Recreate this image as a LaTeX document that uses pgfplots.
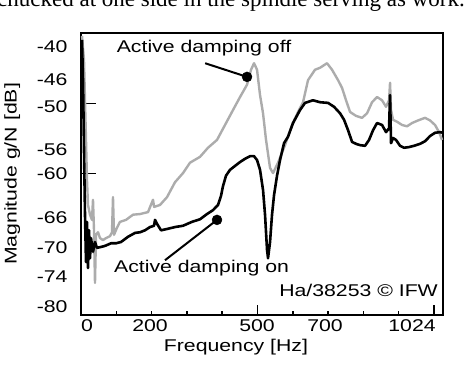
\documentclass[border=0pt]{standalone}
\usepackage{fontspec}
\setmainfont{Liberation Sans}[FakeStretch=1.25]
\newfontfamily\capfont{Liberation Serif}
\usepackage{pgfplots}
\pgfplotsset{compat=1.18}
\definecolor{offgray}{RGB}{172,172,172}
\begin{document}
\begin{tikzpicture}
\begin{axis}[
  name=ax, scale only axis, width=362pt, height=282pt,
  xmin=0, xmax=1050, ymin=-81.23, ymax=-37.85,
  axis line style={line width=2pt},
  tick style={line width=1.5pt, black},
  xtick pos=lower, ytick pos=left, tick align=inside,
  major tick length=0pt, minor tick length=4pt,
  xtick={17.4,200.2,510.6,707.8,960.2},
  xticklabels={0,200,500,700,1024},
  minor xtick={102.4,204.8,307.2,409.6,614.4,716.8,819.2,921.6},
  extra x ticks={512,1024}, extra x tick labels={},
  extra x tick style={major tick length=10pt},
  ytick={-40,-45.08,-49.23,-55.85,-59.54,-66.31,-70.92,-75.38,-80},
  yticklabels={-40,-46,-50,-56,-60,-66,-70,-74,-80},
  extra y ticks={-48.66,-59.43}, extra y tick labels={},
  extra y tick style={major tick length=15pt},
  tick label style={font=\fontsize{17}{20}\selectfont},
  yticklabel style={xshift=-10pt},
  xticklabel style={yshift=-1.5pt},
  label style={font=\fontsize{17}{20}\selectfont},
  xlabel={Frequency [Hz]},
  xlabel style={at={(axis description cs:0.428,-0.115)}, anchor=center},
  ylabel={Magnitude g/N [dB]},
  ylabel style={at={(axis description cs:-0.19,0.5)}, anchor=center, rotate=0},
  /pgf/number format/assume math mode=true,
]
% Active damping off (grey)
\addplot[offgray, line width=2.4pt, line join=round] coordinates {
(2.9,-38.3)(8.7,-42.0)(11.6,-48.2)(14.5,-54.3)(17.4,-60.5)(20.3,-64.3)
(26.1,-65.8)(31.9,-66.6)(34.8,-63.5)(37.7,-68.2)(40.6,-76.3)(43.5,-68.9)
(49.3,-68.5)(55.1,-69.4)(63.8,-69.7)(72.5,-69.4)(84.1,-69.1)(89.9,-68.5)
(92.8,-63.1)(95.7,-68.9)(104.4,-67.8)(113.1,-66.9)(130.5,-66.6)(150.9,-65.8)
(171.2,-65.7)(194.4,-65.4)(208.9,-63.5)(212.0,-64.6)(229.2,-64.3)(249.5,-63.1)
(272.7,-60.8)(295.9,-59.4)(316.2,-57.8)(345.2,-56.9)(368.4,-55.5)(394.5,-54.3)
(417.7,-52.0)(440.9,-49.7)(461.3,-47.7)(481.6,-45.8)(493.2,-43.5)(501.9,-42.5)
(510.6,-43.5)(519.3,-47.4)(528.0,-50.2)(536.7,-54.3)(548.3,-58.6)(557.0,-59.4)
(571.5,-57.8)(591.8,-55.1)(612.1,-52.0)(629.5,-50.0)(644.0,-48.5)(658.5,-45.1)
(678.8,-43.5)(693.3,-43.2)(713.6,-42.5)(728.1,-43.5)(745.6,-45.1)(757.2,-46.3)
(768.8,-48.2)(780.4,-50.0)(797.8,-50.6)(815.2,-50.9)(829.7,-50.2)(844.2,-48.5)
(858.7,-47.7)(873.2,-48.2)(884.8,-49.2)(893.5,-48.2)(896.4,-45.5)(899.3,-49.7)
(905.1,-51.2)(916.7,-51.5)(931.2,-52.0)(945.7,-52.2)(960.2,-51.7)(977.6,-51.3)
(997.9,-50.9)(1012.4,-51.3)(1026.9,-52.0)(1038.5,-53.1)(1047.3,-54.3)
};
% Active damping on (black)
\addplot[black, line width=2.6pt, line join=round] coordinates {
(2.9,-38.9)(5.8,-45.1)(8.7,-55.8)(11.6,-65.8)(14.5,-73.1)(17.4,-66.9)
(20.3,-74.0)(23.2,-68.2)(26.1,-72.5)(29.0,-69.4)(34.8,-71.5)(40.6,-70.0)
(46.4,-70.9)(55.1,-70.8)(69.6,-70.6)(87.0,-70.2)(101.5,-70.2)(116.0,-70.0)
(136.3,-69.2)(156.7,-68.6)(171.2,-68.5)(185.7,-68.2)(200.2,-67.7)(211.8,-67.5)
(214.7,-66.6)(220.5,-67.2)(232.1,-68.2)(249.5,-68.0)(272.7,-67.7)(295.9,-67.5)
(322.0,-66.9)(345.2,-66.5)(365.5,-65.7)(382.9,-65.1)(397.4,-64.3)(406.1,-62.9)
(411.9,-61.4)(420.6,-59.8)(432.2,-58.9)(446.7,-58.3)(461.3,-57.7)(475.8,-57.2)
(490.3,-56.8)(501.9,-56.8)(510.6,-57.4)(519.3,-58.9)(528.0,-62.0)(533.8,-65.8)
(539.6,-71.2)(542.5,-72.5)(548.3,-70.0)(554.1,-65.8)(559.9,-62.8)(568.6,-59.8)
(577.3,-57.4)(588.9,-54.8)(600.5,-53.8)(615.0,-51.7)(635.3,-49.7)(649.8,-48.6)
(673.0,-48.2)(693.3,-48.5)(716.5,-48.6)(733.9,-49.2)(751.4,-50.2)(763.0,-51.2)
(774.6,-52.8)(786.2,-54.6)(797.8,-54.9)(809.4,-55.1)(823.9,-55.2)(835.5,-54.3)
(847.1,-52.8)(858.7,-51.7)(873.2,-52.0)(884.8,-53.1)(893.5,-52.5)(896.4,-47.4)
(899.3,-54.8)(905.1,-54.0)(913.8,-54.3)(925.4,-55.2)(937.0,-55.5)(951.5,-55.4)
(966.0,-55.2)(983.4,-54.9)(997.9,-54.5)(1012.4,-53.7)(1026.9,-53.2)(1041.4,-53.1)
(1050.1,-53.2)
};
% annotation pointers
\addplot[black, line width=2pt] coordinates {(360.0,-42.5)(481.6,-44.6)};
\addplot[black, only marks, mark=*, mark size=5pt] coordinates {(481.6,-44.6)};
\addplot[black, line width=2pt] coordinates {(243.7,-72.8)(394.5,-66.6)};
\addplot[black, only marks, mark=*, mark size=5pt] coordinates {(394.5,-66.6)};
\node[font=\fontsize{17}{20}\selectfont, inner sep=0] at (axis cs:356.8,-40.15) {Active damping off};
\node[font=\fontsize{17}{20}\selectfont, inner sep=0] at (axis cs:349.6,-74.0) {Active damping on};
\node[font=\fontsize{17}{20}\selectfont, inner sep=0] at (axis cs:805,-77.5) {Ha/38253 \textcopyright{} IFW};
\end{axis}
\node[anchor=base west, inner sep=0, font=\capfont\fontsize{23}{25}\selectfont] at ([shift={(-84pt,26pt)}]ax.north west) {chucked at one side in the spindle serving as work.};
\pgfresetboundingbox
\path ([shift={(-81pt,-71pt)}]ax.south west) rectangle ([shift={(31pt,33pt)}]ax.north east);
\end{tikzpicture}
\end{document}
